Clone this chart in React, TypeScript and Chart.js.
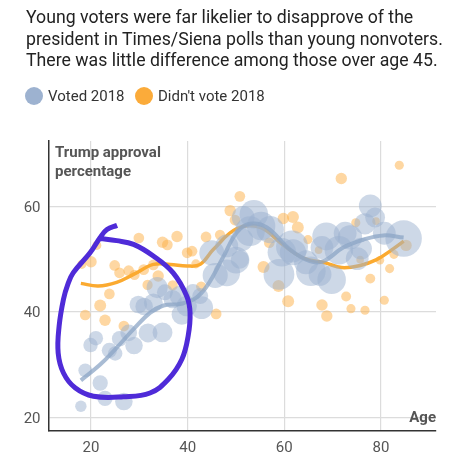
import React, { useEffect, useRef } from 'react';
import { Chart, registerables } from 'chart.js';

Chart.register(...registerables);

const xTickValues = [20, 40, 60, 80];
const yTickValues = [20, 40, 60];

const votedAges = [17.9, 22.9, 26.8, 21.9, 18.8, 19.9, 21.0, 23.8, 25.0, 25.9, 27.8, 28.9, 31.8, 34.8, 29.8, 31.0, 32.9, 33.7, 35.3, 36.9, 38.4, 38.8, 39.8, 42.9, 42.6, 41.1, 45.0, 48.1, 50.0, 48.1, 45.7, 51.2, 51.5, 53.7, 55.2, 57.1, 58.9, 59.5, 61.6, 61.8, 50.8, 65.5, 69.8, 67.4, 64.5, 68.7, 72.6, 73.6, 67.8, 71.3, 75.1, 75.9, 76.7, 77.8, 78.8, 80.7, 84.7, 52.9];
const votedApproval = [22.1, 23.6, 23.0, 26.5, 28.9, 33.7, 35.0, 32.7, 32.1, 34.9, 36.0, 33.6, 36.0, 36.1, 41.4, 41.0, 41.7, 44.6, 43.7, 42.4, 43.0, 39.5, 41.1, 40.8, 43.0, 43.7, 51.2, 52.5, 49.8, 47.4, 46.9, 53.7, 57.9, 58.5, 56.3, 55.6, 47.1, 51.3, 52.4, 51.3, 49.9, 47.7, 46.1, 47.1, 49.4, 54.3, 54.9, 54.1, 52.2, 51.7, 50.1, 52.0, 56.7, 60.1, 57.9, 54.9, 53.9, 55.3];
const votedRespondents = [100, 180, 237, 180, 144, 160, 160, 180, 160, 180, 213, 237, 275, 303, 237, 237, 275, 346, 196, 256, 324, 324, 324, 400, 196, 213, 484, 400, 548, 548, 484, 400, 400, 625, 625, 576, 729, 625, 784, 529, 256, 676, 625, 400, 441, 605, 400, 458, 400, 625, 400, 361, 346, 400, 303, 400, 1024, 676];

const nonvoterAges = [50.8, 48.8, 49.8, 43.8, 46.7, 37.8, 34.8, 35.8, 29.9, 21.2, 20.0, 18.1, 24.9, 25.9, 27.8, 29.0, 30.9, 32.9, 33.9, 39.9, 40.9, 41.7, 31.7, 36.9, 42.8, 23.8, 21.9, 18.8, 22.9, 26.8, 45.9, 83.8, 71.8, 59.8, 61.8, 62.8, 64.9, 74.8, 79.0, 55.7, 58.8, 60.8, 67.8, 72.8, 77.8, 81.8, 80.7, 82.7, 79.8, 85.2, 56.9, 67.1, 75.7, 73.8, 76.7, 68.8];
const nonvoterApproval = [61.9, 59.2, 57.4, 54.2, 54.6, 54.3, 53.2, 52.7, 54.0, 52.6, 49.5, 49.0, 48.8, 47.4, 47.8, 47.0, 48.0, 48.9, 46.8, 51.2, 51.5, 49.1, 45.1, 45.0, 44.8, 43.4, 41.2, 39.4, 38.4, 37.3, 39.6, 67.8, 65.3, 57.7, 58.0, 56.0, 53.7, 56.9, 57.2, 48.5, 44.9, 42.0, 41.3, 42.9, 46.3, 48.2, 42.2, 50.9, 49.8, 52.6, 53.1, 51.7, 49.9, 40.6, 40.3, 39.2];
const nonvoterRespondents = [88, 100, 88, 88, 81, 100, 100, 88, 88, 64, 100, 64, 88, 88, 88, 81, 88, 88, 100, 88, 88, 64, 81, 81, 81, 88, 110, 88, 100, 88, 88, 64, 100, 100, 110, 110, 64, 64, 44, 110, 110, 110, 100, 75, 75, 64, 64, 64, 56, 100, 88, 44, 44, 64, 64, 100];

const votedTrendAges = [17.9, 21.9, 25.0, 28.8, 32.2, 35.0, 38.4, 41.5, 44.0, 47.3, 50.2, 52.9, 56.4, 61.2, 65.3, 68.1, 72.2, 76.4, 80.5, 84.7];
const votedTrendValues = [27.0, 30.0, 32.9, 36.7, 39.8, 41.2, 41.5, 42.5, 44.9, 50.3, 55.1, 56.7, 56.0, 51.8, 49.6, 49.6, 52.2, 53.7, 54.5, 54.1];

const nonvoterTrendAges = [17.9, 21.5, 25.3, 28.8, 32.9, 36.4, 39.8, 42.6, 45.3, 50.2, 55.0, 60.0, 64.0, 68.4, 71.9, 75.7, 79.1, 82.3, 84.7];
const nonvoterTrendValues = [45.4, 44.9, 45.6, 47.1, 49.0, 49.0, 48.7, 49.0, 51.8, 55.8, 56.0, 52.5, 50.2, 49.3, 48.4, 48.8, 49.9, 51.8, 53.4];

// hand drawn circle around the young voters
const circledAges = [25.4, 23.3, 21.9, 19.8, 16.3, 15.2, 14.3, 13.4, 13.2, 14.3, 16.7, 20.5, 26.7, 32.2, 36.0, 38.8, 40.1, 40.5, 39.8, 37.0, 32.9, 28.8, 25.3, 21.9];
const circledValues = [56.4, 55.6, 54.1, 51.2, 47.4, 45.2, 42.4, 37.3, 32.2, 28.4, 25.6, 24.0, 23.9, 24.6, 27.2, 31.0, 35.4, 39.8, 43.0, 47.4, 50.6, 52.8, 53.5, 53.9];

const legendLabels = ['Voted 2018', "Didn't vote 2018"];
const headlineLines = [
  'Young voters were far likelier to disapprove of the',
  'president in Times/Siena polls than young nonvoters.',
  'There was little difference among those over age 45.',
];

const points = (xs: number[], ys: number[]) => xs.map((x, i) => ({ x, y: ys[i] }));
const bubbles = (xs: number[], ys: number[], ns: number[]) =>
  xs.map((x, i) => ({ x, y: ys[i], r: Math.sqrt(ns[i]) * 0.57 }));
const fixedTicks = (values: number[]) => (scale: any) => {
  scale.ticks = values.map((value) => ({ value }));
};

const FONT = 'Roboto, sans-serif';

const App: React.FC = () => {
  const canvasRef = useRef<HTMLCanvasElement | null>(null);

  useEffect(() => {
    document.body.style.margin = '0';
    const ctx = canvasRef.current?.getContext('2d');
    if (!ctx) return;

    const trend = { type: 'line', pointRadius: 0, showLine: true, fill: false, tension: 0.4 };
    const tickStyle = { padding: 8, color: '#555555', font: { family: FONT, size: 15 } };

    const chart = new Chart(ctx, {
      type: 'bubble',
      data: {
        datasets: [
          { ...trend, label: 'circle', data: points(circledAges, circledValues), borderColor: '#4f2bd8', borderWidth: 5 },
          { ...trend, label: 'voted trend', data: points(votedTrendAges, votedTrendValues), borderColor: 'rgba(140,165,198,0.75)', borderWidth: 4 },
          { label: legendLabels[0], data: bubbles(votedAges, votedApproval, votedRespondents), backgroundColor: 'rgba(155,178,207,0.5)', borderWidth: 0 },
          { ...trend, label: 'nonvoter trend', data: points(nonvoterTrendAges, nonvoterTrendValues), borderColor: '#fbaa30', borderWidth: 3.5 },
          { label: legendLabels[1], data: bubbles(nonvoterAges, nonvoterApproval, nonvoterRespondents), backgroundColor: 'rgba(253,176,70,0.5)', borderWidth: 0 },
        ] as any,
      },
      options: {
        responsive: false,
        animation: false,
        layout: { padding: { top: 141, right: 38 } },
        plugins: { legend: { display: false }, tooltip: { enabled: false } },
        scales: {
          x: {
            type: 'linear',
            min: 11.2,
            max: 91.4,
            afterBuildTicks: fixedTicks(xTickValues),
            afterFit: (scale: any) => { scale.height = 36; },
            grid: { color: '#dcdcdc', lineWidth: 1.2, drawTicks: false },
            border: { color: '#333333', width: 1.5 },
            ticks: tickStyle,
          },
          y: {
            type: 'linear',
            min: 17.4,
            max: 72.4,
            afterBuildTicks: fixedTicks(yTickValues),
            afterFit: (scale: any) => { scale.width = 48.5; },
            grid: { color: '#dcdcdc', lineWidth: 1.2, drawTicks: false },
            border: { color: '#333333', width: 1.5 },
            ticks: { ...tickStyle, labelOffset: 1.5 },
          },
        },
      },
    });

    return () => {
      chart.destroy();
    };
  }, []);

  return (
    <div style={{ position: 'relative', width: 474, height: 467, background: '#fff', overflow: 'hidden', fontFamily: FONT }}>
      <canvas ref={canvasRef} width={474} height={467} style={{ position: 'absolute', left: 0, top: 0, width: 474, height: 467 }} />
      <div style={{ position: 'absolute', left: 26, top: 7, fontSize: 17.7, lineHeight: '21.5px', color: '#222', whiteSpace: 'nowrap' }}>
        {headlineLines.map((line) => <div key={line}>{line}</div>)}
      </div>
      <div style={{ position: 'absolute', left: 25, top: 87, height: 18, display: 'flex', alignItems: 'center', fontSize: 15, color: '#333', whiteSpace: 'nowrap' }}>
        <span style={{ width: 18, height: 18, borderRadius: 9, background: '#9db2d0', marginRight: 5 }} />
        <span style={{ width: 87 }}>{legendLabels[0]}</span>
        <span style={{ width: 18, height: 18, borderRadius: 9, background: '#fbab3a', marginRight: 5 }} />
        <span>{legendLabels[1]}</span>
      </div>
      <div style={{ position: 'absolute', left: 55, top: 143, fontSize: 15, lineHeight: '19px', fontWeight: 700, color: '#555' }}>
        Trump approval<br />percentage
      </div>
      <div style={{ position: 'absolute', right: 38, top: 408, fontSize: 15, lineHeight: '19px', fontWeight: 700, color: '#555' }}>Age</div>
    </div>
  );
};

export default App;
